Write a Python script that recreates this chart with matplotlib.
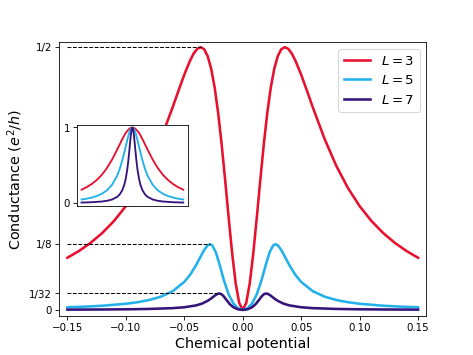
import numpy as np
import matplotlib
matplotlib.use("Agg")
import matplotlib.pyplot as plt

# Conductance vs chemical potential (positive half, curves are symmetric about 0)
mu_L3 = [0.0, 0.003, 0.006, 0.009, 0.012, 0.015, 0.018, 0.021, 0.024, 0.027, 0.030, 0.033, 0.036,
         0.039, 0.042, 0.045, 0.050, 0.055, 0.060, 0.070, 0.080, 0.090, 0.100, 0.110, 0.120,
         0.130, 0.140, 0.150]
G_L3 = [0.0, 0.0131, 0.0504, 0.1068, 0.1747, 0.2463, 0.3146, 0.3745, 0.4231, 0.4591, 0.4830,
        0.4961, 0.5, 0.4967, 0.4878, 0.4748, 0.4476, 0.4168, 0.3852, 0.3256, 0.2743, 0.2320,
        0.1975, 0.1695, 0.1466, 0.1278, 0.1122, 0.0992]

mu_L5 = [0.0, 0.004, 0.008, 0.012, 0.016, 0.020, 0.023, 0.026, 0.028, 0.030, 0.033, 0.036,
         0.040, 0.045, 0.050, 0.060, 0.070, 0.080, 0.090, 0.100, 0.120, 0.135, 0.150]
G_L5 = [0.0, 0.0029, 0.0122, 0.0294, 0.0557, 0.0879, 0.1096, 0.1226, 0.125, 0.1229, 0.1139,
        0.1015, 0.0847, 0.0668, 0.0532, 0.0355, 0.0252, 0.0188, 0.0146, 0.0117, 0.0079,
        0.0062, 0.0050]

mu_L7 = [0.0, 0.004, 0.008, 0.011, 0.014, 0.016, 0.018, 0.020, 0.022, 0.024, 0.027, 0.030,
         0.035, 0.040, 0.050, 0.060, 0.080, 0.100, 0.125, 0.150]
G_L7 = [0.0, 0.0011, 0.0050, 0.0108, 0.0192, 0.0252, 0.0297, 0.03125, 0.0300, 0.0270, 0.0217,
        0.0172, 0.0118, 0.0085, 0.0050, 0.0033, 0.0018, 0.0011, 0.0007, 0.0005]

# Inset: normalised peaks (positive half)
ins_x3 = [0.0, 0.05, 0.1, 0.15, 0.2, 0.3, 0.4, 0.5, 0.6, 0.7, 0.8, 0.9, 1.0]
ins_y3 = [1.0, 0.9886, 0.956, 0.906, 0.844, 0.706, 0.575, 0.464, 0.375, 0.306, 0.2525, 0.2107, 0.1778]
ins_x5 = [0.0, 0.03, 0.06, 0.1, 0.15, 0.2, 0.25, 0.3, 0.4, 0.5, 0.6, 0.7, 0.8, 0.9, 1.0]
ins_y5 = [1.0, 0.9827, 0.934, 0.836, 0.694, 0.561, 0.4497, 0.362, 0.242, 0.1697, 0.1243,
          0.0944, 0.0739, 0.0593, 0.0486]
ins_x7 = [0.0, 0.015, 0.03, 0.045, 0.06, 0.08, 0.1, 0.13, 0.16, 0.2, 0.25, 0.3, 0.4, 0.5, 0.6, 0.8, 1.0]
ins_y7 = [1.0, 0.973, 0.9, 0.8, 0.692, 0.5587, 0.4475, 0.324, 0.2404, 0.1684, 0.1147, 0.0826,
          0.0482, 0.0314, 0.022, 0.0125, 0.008]

labels = [r'$L=3$', r'$L=5$', r'$L=7$']
colors = ['#e8102e', '#22b1ea', '#36137a']
yticks = [0, 1/32, 1/8, 1/2]
yticklabels = ['0', '1/32', '1/8', '1/2']


def mirror(x, y):
    x = np.asarray(x)
    y = np.asarray(y)
    return np.concatenate([-x[::-1], x[1:]]), np.concatenate([y[::-1], y[1:]])


fig = plt.figure(figsize=(6.4, 4.8), dpi=74)
ax = fig.add_subplot(111)

main = [(mu_L3, G_L3), (mu_L5, G_L5), (mu_L7, G_L7)]
for (x, y), c, lab in zip(main, colors, labels):
    xx, yy = mirror(x, y)
    ax.plot(xx, yy, color=c, lw=2.5, label=lab)
    # dashed guide from the left edge to the left peak
    ipk = int(np.argmax(y))
    ax.hlines(y[ipk], -x[-1], -x[ipk], colors='k', linestyles='--', lw=1)

ax.set_xlim(-0.157, 0.157)
ax.set_ylim(-0.0115, 0.509)
ax.set_yticks(yticks)
ax.set_yticklabels(yticklabels)
ax.set_xlabel('Chemical potential', fontsize=14)
ax.set_ylabel(r'Conductance ($e^2/h$)', fontsize=14)
ax.legend(loc='upper right', fontsize=13)

# inset
axin = fig.add_axes([0.163, 0.42, 0.233, 0.228])
for (x, y), c in zip([(ins_x3, ins_y3), (ins_x5, ins_y5), (ins_x7, ins_y7)], colors):
    xx, yy = mirror(x, y)
    axin.plot(xx, yy, color=c, lw=1.8)
axin.set_xlim(-1.085, 1.085)
axin.set_ylim(-0.035, 1.035)
axin.set_xticks([])
axin.set_yticks([0, 1])

fig.savefig('out.png', dpi=74)
